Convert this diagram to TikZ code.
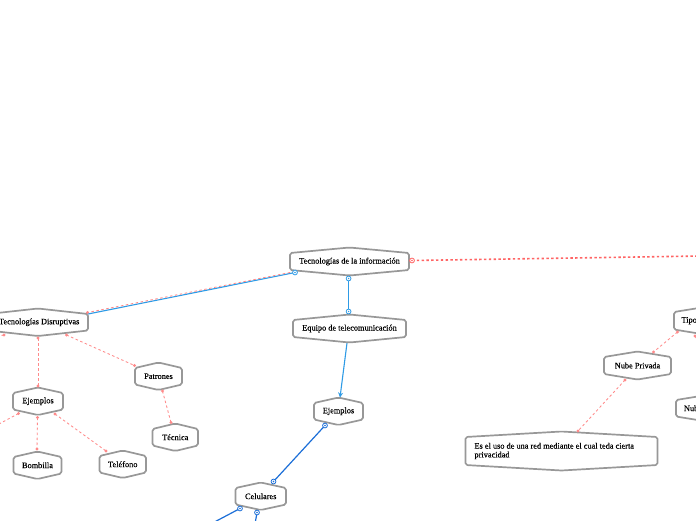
\documentclass[tikz,border=0pt]{standalone}
\usepackage{fontspec}
\setmainfont[BoldFont={Liberation Serif},BoldFeatures={FakeBold=0.35}]{Liberation Serif}
\usetikzlibrary{calc,arrows.meta}
\definecolor{boxline}{HTML}{989898}
\definecolor{lblue}{HTML}{2E9BE6}
\definecolor{dblue}{HTML}{1C6FD8}
\definecolor{lred}{HTML}{FF8A8A}
\definecolor{sred}{HTML}{FF6464}
\tikzset{
  x=1pt,y=-1pt,
  hexnode/.style={inner sep=0pt,outer sep=0pt,font=\bfseries\fontsize{8.3}{9}\selectfont,text=black,align=left},
  hexline/.style={draw=boxline,line width=1.7pt,rounded corners=1.8pt,fill=white,line join=round},
  bluelink/.style={draw=lblue,line width=1.1pt},
  darklink/.style={draw=dblue,line width=1.2pt},
  redlink/.style={draw=lred,line width=.85pt,dash pattern=on 2.5pt off 2.5pt},
  strongred/.style={draw=sred,line width=1.6pt,dash pattern=on 2.4pt off 2.4pt},
  endmark/.style={circle,inner sep=0pt,minimum size=4.8pt,draw=#1,line width=.8pt,fill=white},
  enddot/.style={circle,inner sep=0pt,minimum size=1.6pt,fill=#1},
  reddot/.style={circle,inner sep=0pt,minimum size=3.4pt,fill=lred},
}
% \hexbody{name}{left}{top}{right}{bottom}
\newcommand{\hexbody}[5]{%
  \coordinate (#1-nw) at (#2,#3+5.5);
  \coordinate (#1-ne) at (#4,#3+5.5);
  \coordinate (#1-se) at (#4,#5-5.5);
  \coordinate (#1-sw) at (#2,#5-5.5);
  \coordinate (#1-t) at ({(#2+#4)/2},#3);
  \coordinate (#1-b) at ({(#2+#4)/2},#5);
  \draw[hexline] (#1-nw) -- (#1-t) -- (#1-ne) -- (#1-se) -- (#1-b) -- (#1-sw) -- cycle;
}
\newcommand{\hex}[6]{%
  \hexbody{#1}{#2}{#3}{#4}{#5}
  \node[hexnode] (#1) at ({(#2+#4)/2},{(#3+#5)/2}) {#6};
}
% box whose text starts at a given x: \hexat{name}{l}{t}{r}{b}{textx}{text}
\newcommand{\hexat}[7]{%
  \hexbody{#1}{#2}{#3}{#4}{#5}
  \node[hexnode,anchor=west] (#1) at (#6,{(#3+#5)/2}) {#7};
}
\newcommand{\bmark}[2]{\node[endmark=#1] at (#2) {}; \node[enddot=#1] at (#2) {};}
\newcommand{\rmark}[1]{\node[reddot] at (#1) {};}
\begin{document}
\begin{tikzpicture}
\useasboundingbox (0,0) rectangle (696,520);
\clip (0,0) rectangle (696,520);
\fill[white] (0,0) rectangle (696,520);
% free ends
\coordinate (offRight) at (720,255.7);
\coordinate (offLeftTD) at (-12,338);
\coordinate (offLeftEj) at (-14,431);
\coordinate (offCelA) at (205,527);
\coordinate (offCelB) at (254,530);
\coordinate (offTipo) at (700,345);
% anchors on box edges
\coordinate (aInfoL) at (295,272.5);
\coordinate (aInfoLr) at (295,271.5);
\coordinate (aInfoR) at (412,260.5);
\coordinate (aInfoB) at (348.6,278.5);
\coordinate (aEqT) at (348.6,311.5);
\coordinate (aEqB) at (347,343);
\coordinate (aEj2T) at (340,397.5);
\coordinate (aEj2B) at (325,425.5);
\coordinate (aCelT) at (273.5,481.5);
\coordinate (aCelL) at (240,508.5);
\coordinate (aCelB) at (257,512.5);
\coordinate (aTDR) at (87.5,312.5);
\coordinate (aTDRb) at (88,314);
\coordinate (aTDB) at (38,338);
\coordinate (aTDBR) at (66.5,335);
\coordinate (aTDBL) at (4,335);
\coordinate (aEjT) at (38,386);
\coordinate (aEjBL) at (18.5,413.5);
\coordinate (aEjB) at (37.5,417.5);
\coordinate (aEjBR) at (55,414);
\coordinate (aBomT) at (37,449);
\coordinate (aTelT) at (106,451);
\coordinate (aPatL) at (134.5,365.5);
\coordinate (aPatB) at (162.5,391);
\coordinate (aTecT) at (171,422.5);
\coordinate (aTipoL) at (677.5,332);
\coordinate (aTipoB) at (695,336);
\coordinate (aNPT) at (653.5,352);
\coordinate (aNPB) at (625,380);
\coordinate (aBigT) at (578,431);
% connectors
\draw[strongred] (aInfoR) -- (offRight);
\draw[bluelink] (aInfoL) -- (aTDRb);
\draw[redlink] (aInfoLr) -- (aTDR);
\draw[bluelink] (aInfoB) -- (aEqT);
\draw[bluelink,-{Stealth[length=5pt,width=5pt]}] (aEqB) -- (aEj2T);
\draw[darklink] (aEj2B) -- (aCelT);
\draw[darklink] (aCelL) -- (offCelA);
\draw[darklink] (aCelB) -- (offCelB);
\draw[redlink] (aTDB) -- (aEjT);
\draw[redlink] (aTDBR) -- (aPatL);
\draw[redlink] (aTDBL) -- (offLeftTD);
\draw[redlink] (aEjBL) -- (offLeftEj);
\draw[redlink] (aEjB) -- (aBomT);
\draw[redlink] (aEjBR) -- (aTelT);
\draw[redlink] (aPatB) -- (aTecT);
\draw[redlink] (aTipoL) -- (aNPT);
\draw[redlink] (aTipoB) -- (offTipo);
\draw[redlink] (aNPB) -- (aBigT);
% boxes
\hex{info}{290}{247.5}{409}{275.5}{Tecnologías de la información}
\hex{equipo}{293}{314.5}{406}{342.5}{Equipo de telecomunicación}
\hex{ejdos}{314}{397.5}{363}{425}{Ejemplos}
\hex{cel}{235.5}{482.5}{286}{510}{Celulares}
\hexat{disr}{-12}{308.5}{88}{336}{-1}{Tecnologías Disruptivas}
\hex{ejuno}{13}{387.5}{63}{415}{Ejemplos}
\hex{pat}{135}{362.5}{182}{390}{Patrones}
\hex{tec}{152.5}{423.5}{198}{451}{Técnica}
\hex{bom}{13.5}{451.5}{61.5}{479}{Bombilla}
\hex{tel}{99.5}{450.5}{146}{478}{Teléfono}
\hexat{tipo}{674}{306.5}{742}{335}{681.5}{Tipo}
\hexat{pub}{676}{394.5}{744}{422}{684}{Nub}
\hex{priv}{604}{351.5}{671}{379.5}{Nube Privada}
\hexat{big}{465.5}{431.5}{657.5}{470.5}{474.5}{\parbox{180pt}{\fontsize{8.3}{8.8}\selectfont Es el uso de una red mediante el cual teda cierta\\ privacidad}}
% end markers
\bmark{lblue}{aInfoB}
\bmark{lblue}{aEqT}
\bmark{lblue}{aInfoL}
\bmark{dblue}{aEj2B}
\bmark{dblue}{aCelT}
\bmark{dblue}{aCelL}
\bmark{dblue}{aCelB}
\bmark{sred}{aInfoR}
\rmark{aTDR}\rmark{aTDB}\rmark{aTDBR}\rmark{aTDBL}\rmark{aEjT}\rmark{aEjBL}\rmark{aEjB}\rmark{aEjBR}
\rmark{aBomT}\rmark{aTelT}\rmark{aPatL}\rmark{aPatB}\rmark{aTecT}\rmark{aTipoL}\rmark{aTipoB}\rmark{aNPT}\rmark{aNPB}\rmark{aBigT}
\end{tikzpicture}
\end{document}
